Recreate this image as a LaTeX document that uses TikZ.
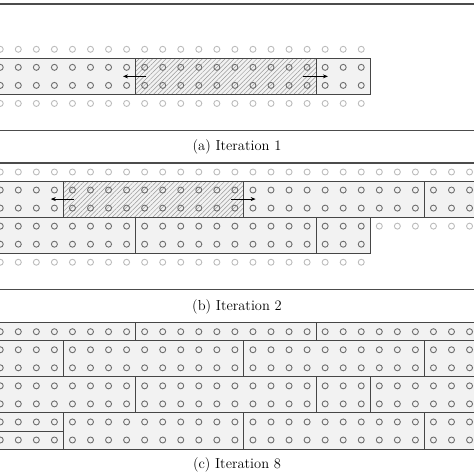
\documentclass[tikz,border=0pt]{standalone}
\usetikzlibrary{arrows.meta, patterns.meta}
\definecolor{brickgray}{RGB}{242,242,242}
\definecolor{dotgray}{RGB}{110,110,110}
\definecolor{palegray}{RGB}{188,188,188}
\definecolor{edgegray}{RGB}{70,70,70}
\tikzset{brick/.style={fill=brickgray, draw=edgegray, line width=0.9pt},hatchbrick/.style={preaction={fill=brickgray}, pattern={Lines[angle=45, distance=3.2pt, line width=0.5pt]}, pattern color=gray!80, draw=edgegray, line width=0.9pt}}
\tikzset{darkdot/.style={draw=dotgray, line width=0.9pt},lightdot/.style={draw=palegray, line width=0.9pt}}

\begin{document}
\begin{tikzpicture}[
        frameline/.style={draw=black!70, line width=1.4pt},
        pusharrow/.style={-{Stealth[length=5pt, width=4pt]}, line width=0.9pt},
        caption/.style={font=\fontsize{14.5}{16}\selectfont}
    ]
        \useasboundingbox (0pt, 0pt) rectangle (474pt, 474pt);
        \clip (0pt, 0pt) rectangle (474pt, 474pt);
        % Iteration 1
        \begin{scope}[shift={(0.25pt, 424.7pt)}, x=18.05pt, y=-18.05pt]
            % Frame
            \draw[frameline] (-1, -2.5) rectangle (28, 4.5);
            % Bricks
            \draw[brick] (-1, 0.5) rectangle (7.5, 2.5);
            \draw[hatchbrick] (7.5, 0.5) rectangle (17.5, 2.5);
            \draw[brick] (17.5, 0.5) rectangle (20.5, 2.5);
            % Points
            \foreach \k in {0,...,20} {
                \foreach \j in {0, 3} {\draw[lightdot] (\k, \j) circle (3pt);}
                \foreach \j in {1, 2} {\draw[darkdot] (\k, \j) circle (3pt);}
            }
            % Arrows
            \draw[pusharrow] (8.1, 1.5) -- (6.8, 1.5);
            \draw[pusharrow] (16.8, 1.5) -- (18.15, 1.5);
        \end{scope}
        % Iteration 2
        \begin{scope}[shift={(0.25pt, 302pt)}, x=18.05pt, y=-18.05pt]
            % Frame
            \draw[frameline] (-1, -0.5) rectangle (28, 6.5);
            % Bricks
            \foreach \l/\r in {-1/3.5, 13.5/23.5, 23.5/28} {
                \draw[brick] (\l, 0.5) rectangle (\r, 2.5);
            }
            \draw[hatchbrick] (3.5, 0.5) rectangle (13.5, 2.5);
            \foreach \l/\r in {-1/7.5, 7.5/17.5, 17.5/20.5} {
                \draw[brick] (\l, 2.5) rectangle (\r, 4.5);
            }
            % Points
            \foreach \k in {0,...,26} {
                \draw[lightdot] (\k, 0) circle (3pt);
                \foreach \j in {1, 2} {\draw[darkdot] (\k, \j) circle (3pt);}
            }
            \foreach \k in {0,...,20} {
                \foreach \j in {3, 4} {\draw[darkdot] (\k, \j) circle (3pt);}
                \draw[lightdot] (\k, 5) circle (3pt);
            }
            \foreach \k in {21,...,26} {\draw[lightdot] (\k, 3) circle (3pt);}
            % Arrows
            \draw[pusharrow] (4.1, 1.5) -- (2.8, 1.5);
            \draw[pusharrow] (12.8, 1.5) -- (14.15, 1.5);
        \end{scope}
        % Iteration 8
        \begin{scope}[shift={(0.25pt, 142.3pt)}, x=18.05pt, y=-18.05pt]
            % Frame
            \draw[frameline] (-1, -0.5) rectangle (28, 6.5);
            % Bricks
            \foreach \l/\r in {-1/7.5, 7.5/17.5, 17.5/28} {
                \draw[brick] (\l, -0.5) rectangle (\r, 0.5);
            }
            \foreach \l/\r in {-1/3.5, 3.5/13.5, 13.5/23.5, 23.5/28} {
                \draw[brick] (\l, 0.5) rectangle (\r, 2.5);
            }
            \foreach \l/\r in {-1/7.5, 7.5/17.5, 17.5/20.5, 20.5/28} {
                \draw[brick] (\l, 2.5) rectangle (\r, 4.5);
            }
            \draw[brick] (-1, 4.5) rectangle (3.5, 5.5);
            \draw[brick] (-1, 5.5) rectangle (3.5, 6.5);
            \foreach \l/\r in {3.5/13.5, 13.5/23.5, 23.5/28} {
                \draw[brick] (\l, 4.5) rectangle (\r, 6.5);
            }
            % Points
            \foreach \k in {0,...,26} {
                \foreach \j in {0,...,6} {\draw[darkdot] (\k, \j) circle (3pt);}
            }
        \end{scope}
        % Caption
        \node[caption] (capa) at (237pt, 327.3pt) {(a) Iteration 1};
        \node[caption] (capb) at (237pt, 167.3pt) {(b) Iteration 2};
        \node[caption] (capc) at (237pt, 9.5pt) {(c) Iteration 8};
    \end{tikzpicture}
\end{document}
